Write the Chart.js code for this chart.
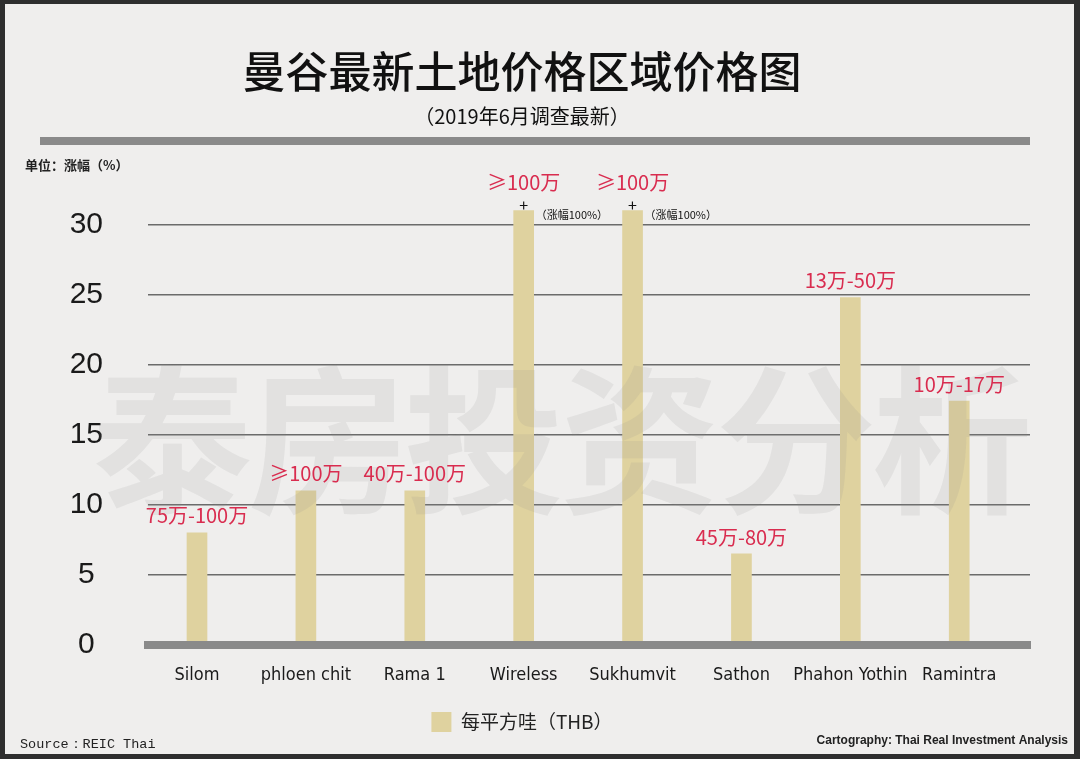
<!DOCTYPE html>
<html>
<head>
<meta charset="utf-8">
<script src="https://cdn.jsdelivr.net/npm/chart.js@4"></script>
<style>
  html, body { margin: 0; padding: 0; background: #2e2e2e; }
  canvas { display: block; }
</style>
</head>
<body>
<canvas id="price-chart" width="1080" height="759"></canvas>
<script>
const districts = ["Silom", "phloen chit", "Rama 1", "Wireless", "Sukhumvit", "Sathon", "Phahon Yothin", "Ramintra"];
const increases = [8, 11, 11, 31, 31, 6.5, 24.8, 17.4];
const priceRanges = ["75万-100万", "≥100万", "40万-100万", "≥100万", "≥100万", "45万-80万", "13万-50万", "10万-17万"];
const cappedNotes = ["", "", "", "（涨幅100%）", "（涨幅100%）", "", "", ""];
const yMax = 30;
const yStep = 5;

const titleText = "曼谷最新土地价格区域价格图";
const subtitleText = "（2019年6月调查最新）";
const unitText = "单位：涨幅（%）";
const legendText = "每平方哇（THB）";
const sourceText = "Source：REIC Thai";
const creditText = "Cartography: Thai Real Investment Analysis";
const watermarkText = "泰房投资分析";

const CJK = '"Noto Sans CJK SC", "Noto Sans", sans-serif';
const BAR_COLOR = "#dfd29f";
const RED = "#d92c4f";

const backdrop = {
  id: "backdrop",
  beforeDraw(chart) {
    const { ctx, width, height } = chart;
    ctx.save();
    ctx.fillStyle = "#2e2e2e";
    ctx.fillRect(0, 0, width, height);
    ctx.fillStyle = "#efeeed";
    ctx.fillRect(5, 4, width - 11, height - 9);
    // grey rule under the subtitle
    ctx.fillStyle = "#8a8a8a";
    ctx.fillRect(40, 137, 990, 8);
    ctx.fillStyle = "#222";
    ctx.font = `bold 13px ${CJK}`;
    ctx.textBaseline = "middle";
    ctx.fillText(unitText, 25, 165);
    ctx.restore();
  },
  afterDraw(chart) {
    const { ctx } = chart;
    ctx.save();
    ctx.textBaseline = "middle";
    ctx.fillStyle = "#222";
    ctx.font = '13.5px "Liberation Mono", "DejaVu Sans Mono", monospace';
    ctx.fillText(sourceText, 20, 744);
    ctx.textAlign = "right";
    ctx.font = 'bold 12px "Liberation Sans Narrow", "Liberation Sans", sans-serif';
    ctx.fillText(creditText, 1068, 741);
    ctx.restore();
  }
};

const barNotes = {
  id: "barNotes",
  afterDatasetsDraw(chart) {
    const { ctx } = chart;
    const bars = chart.getDatasetMeta(0).data;
    ctx.save();
    // faint watermark across the plot
    ctx.fillStyle = "rgba(140, 140, 140, 0.13)";
    ctx.font = `bold 160px ${CJK}`;
    ctx.textAlign = "center";
    ctx.textBaseline = "middle";
    [...watermarkText].forEach((ch, i) => ctx.fillText(ch, 172 + i * 156, 440));

    bars.forEach((bar, i) => {
      const note = cappedNotes[i];
      ctx.textAlign = "center";
      ctx.fillStyle = RED;
      ctx.font = `20px ${CJK}`;
      ctx.fillText(priceRanges[i], bar.x, bar.y - (note ? 28 : 17));
      if (note) {
        ctx.fillStyle = "#111";
        ctx.font = `16px ${CJK}`;
        ctx.fillText("+", bar.x, bar.y - 6);
        ctx.textAlign = "left";
        ctx.font = `11px ${CJK}`;
        ctx.fillText(note, bar.x + 12, bar.y + 4);
      }
    });
    ctx.restore();
  }
};

new Chart(document.querySelector("#price-chart"), {
  type: "bar",
  data: {
    datasets: [
      {
        label: legendText,
        data: increases.map((value, i) => ({ x: i, y: value })),
        backgroundColor: BAR_COLOR,
        barThickness: 20,
        clip: false
      }
    ]
  },
  options: {
    responsive: false,
    animation: false,
    layout: { padding: { left: 14, right: 50, top: 0, bottom: 17 } },
    plugins: {
      title: {
        display: true,
        text: titleText,
        color: "#111",
        font: { family: CJK, size: 43, weight: "500" },
        padding: { top: 46, bottom: 0 }
      },
      subtitle: {
        display: true,
        text: subtitleText,
        color: "#111",
        font: { family: CJK, size: 20 },
        padding: { top: 7, bottom: 96 }
      },
      legend: {
        position: "bottom",
        labels: {
          color: "#222",
          boxWidth: 20,
          boxHeight: 20,
          padding: 10,
          font: { family: CJK, size: 19 }
        }
      },
      tooltip: { enabled: false }
    },
    scales: {
      x: {
        type: "linear",
        offset: false,
        min: -0.45,
        max: 7.65,
        grid: { display: false, drawTicks: false },
        border: { display: true, color: "#8a8a8a", width: 8, z: 1 },
        afterFit: (scale) => { scale.height = 57; },
        ticks: {
          stepSize: 1,
          includeBounds: false,
          autoSkip: false,
          maxRotation: 0,
          padding: 20,
          color: "#1a1a1a",
          font: { family: '"Liberation Sans Narrow", "DejaVu Sans Condensed", Roboto, sans-serif', size: 18 },
          callback: (value) => districts[value] ?? ""
        }
      },
      y: {
        min: 0,
        max: yMax,
        afterFit: (scale) => { scale.width = 134; },
        grid: {
          drawTicks: false,
          lineWidth: 1.5,
          color: (ctx) => (ctx.tick && ctx.tick.value === 0 ? "rgba(0,0,0,0)" : "#6b6b6b")
        },
        border: { display: false },
        ticks: {
          stepSize: yStep,
          padding: 45,
          crossAlign: "center",
          color: "#1a1a1a",
          font: { family: '"Liberation Sans", Arial, sans-serif', size: 30 }
        }
      }
    }
  },
  plugins: [backdrop, barNotes]
});
</script>
</body>
</html>
